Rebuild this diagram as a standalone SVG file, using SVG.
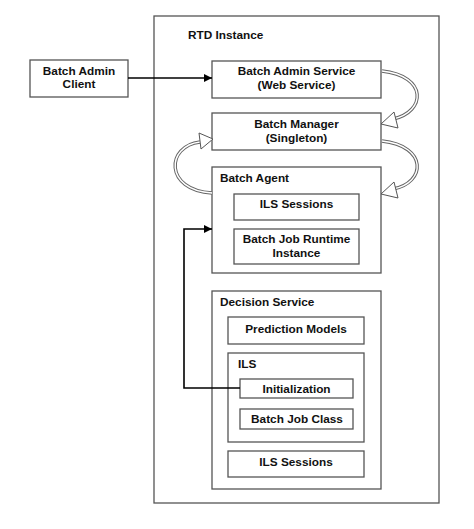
<svg xmlns="http://www.w3.org/2000/svg" width="474" height="529" viewBox="0 0 474 529">
<style>
.box{fill:#fff;stroke:#555;stroke-width:1.3}
.t{font-family:"Liberation Sans",Arial,sans-serif;font-weight:bold;font-size:11.8px;fill:#111}
.c{text-anchor:middle}
.line{fill:none;stroke:#000;stroke-width:1.6}
.dblo{fill:none;stroke:#666;stroke-width:3.4}
.dbli{fill:none;stroke:#fff;stroke-width:1.4}
.head{fill:#fff;stroke:#555;stroke-width:1}
</style>
<defs>
<marker id="arr" viewBox="0 0 10 10" refX="10" refY="5" markerWidth="9" markerHeight="8" markerUnits="userSpaceOnUse" orient="auto">
<path d="M0,0 L10,5 L0,10 Z" fill="#000"/>
</marker>
</defs>
<rect width="474" height="529" fill="#fff"/>
<g id="rtd-instance">
<rect class="box" x="154" y="16" width="285" height="487"/>
<text class="t" x="188" y="39">RTD Instance</text>
</g>
<g id="batch-admin-client">
<rect class="box" x="30" y="60" width="98" height="37"/>
<text class="t c" x="79" y="75">Batch Admin</text>
<text class="t c" x="79" y="88">Client</text>
</g>
<g id="batch-admin-service">
<rect class="box" x="212" y="61" width="169" height="37"/>
<text class="t c" x="296.5" y="75">Batch Admin Service</text>
<text class="t c" x="296.5" y="89">(Web Service)</text>
</g>
<g id="batch-manager">
<rect class="box" x="212" y="113" width="169" height="37"/>
<text class="t c" x="296.5" y="128">Batch Manager</text>
<text class="t c" x="296.5" y="142">(Singleton)</text>
</g>
<g id="batch-agent">
<rect class="box" x="212" y="167" width="169" height="106"/>
<text class="t" x="220" y="182">Batch Agent</text>
</g>
<g id="ils-sessions-agent">
<rect class="box" x="234" y="194" width="125" height="26"/>
<text class="t c" x="296.5" y="208">ILS Sessions</text>
</g>
<g id="batch-job-runtime">
<rect class="box" x="234" y="229" width="125" height="35"/>
<text class="t c" x="296.5" y="243">Batch Job Runtime</text>
<text class="t c" x="296.5" y="257">Instance</text>
</g>
<g id="decision-service">
<rect class="box" x="212" y="291" width="169" height="198"/>
<text class="t" x="220" y="306">Decision Service</text>
</g>
<g id="prediction-models">
<rect class="box" x="228" y="317" width="136" height="27"/>
<text class="t c" x="296" y="333">Prediction Models</text>
</g>
<g id="ils">
<rect class="box" x="228" y="353" width="136" height="89"/>
<text class="t" x="238" y="368">ILS</text>
</g>
<g id="initialization">
<rect class="box" x="240" y="379" width="113" height="19"/>
<text class="t c" x="296.5" y="393">Initialization</text>
</g>
<g id="batch-job-class">
<rect class="box" x="240" y="409" width="113" height="20"/>
<text class="t c" x="297" y="423">Batch Job Class</text>
</g>
<g id="ils-sessions-ds">
<rect class="box" x="228" y="451" width="136" height="26"/>
<text class="t c" x="296" y="466">ILS Sessions</text>
</g>
<g id="connectors">
<line class="line" x1="128" y1="78" x2="212" y2="78" marker-end="url(#arr)"/>
<polyline class="line" points="240,388 184,388 184,229 212,229" marker-end="url(#arr)"/>
<path class="dblo" d="M382,71 C428,76 426,112 393,119"/>
<path class="dbli" d="M382,71 C428,76 426,112 393,119"/>
<polygon class="head" points="381,124 394,112 398,128"/>
<path class="dblo" d="M382,141 C428,146 426,183 393,189"/>
<path class="dbli" d="M382,141 C428,146 426,183 393,189"/>
<polygon class="head" points="381,194 394,182 398,198"/>
<path class="dblo" d="M212,193 C164,190 166,146 200,142"/>
<path class="dbli" d="M212,193 C164,190 166,146 200,142"/>
<polygon class="head" points="213,139 199,133 201,149"/>
</g>
</svg>
